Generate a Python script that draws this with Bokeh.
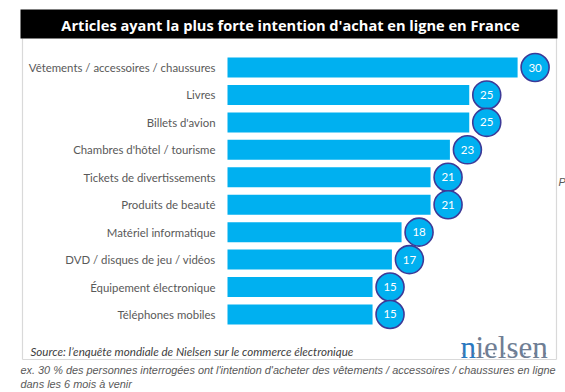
from bokeh.plotting import figure
from bokeh.models import Range1d, ColumnDataSource
from bokeh.core.properties import value
from bokeh.embed import file_html
from bokeh.resources import INLINE

title = "Articles ayant la plus forte intention d'achat en ligne en France"
categories = [
    "Vêtements / accessoires / chaussures",
    "Livres",
    "Billets d'avion",
    "Chambres d'hôtel / tourisme",
    "Tickets de divertissements",
    "Produits de beauté",
    "Matériel informatique",
    "DVD / disques de jeu / vidéos",
    "Équipement électronique",
    "Téléphones mobiles",
]
values = [30, 25, 25, 23, 21, 21, 18, 17, 15, 15]
source_text = "Source: l’enquête mondiale de Nielsen sur le commerce électronique"
note_lines = [
    "ex. 30 % des personnes interrogées ont l'intention d'acheter des vêtements / accessoires / chaussures en ligne",
    "dans les 6 mois à venir",
]
side_text = "P"

W, H = 565, 392
X0, XS = 227.0, 9.67      # pixel of value 0, pixels per unit
Y0, YS = 67.0, 27.44      # pixel of first row, pixels per row

def px(x):
    return (x - X0) / XS

def py(y):
    return (y - Y0) / YS

BLUE = "#00B0F0"
GRAY = "#595959"

p = figure(width=W, height=H, output_backend="svg", toolbar_location=None,
           x_range=Range1d(px(0), px(W)), y_range=Range1d(py(H), py(0)),
           x_axis_location=None, y_axis_location=None, min_border=0,
           outline_line_color=None, background_fill_color="white",
           border_fill_color="white")
p.xgrid.visible = False
p.ygrid.visible = False

idx = list(range(len(categories)))
circ_off = 17.5 / XS
src = ColumnDataSource(dict(
    y=idx, cat=categories, v=values,
    cx=[v + circ_off for v in values],
    vt=[str(v) for v in values],
))

# frame
p.segment(x0=[px(22), px(22), px(556)], y0=[py(38), py(359), py(38)],
          x1=[px(22), px(556), px(556)], y1=[py(359), py(359), py(359)],
          line_color="#D9D9D9", line_width=1.2)

# title bar
p.quad(left=[px(20)], right=[px(557)], top=[py(9)], bottom=[py(38)],
       fill_color="black", line_color=None)
p.text(x=[px(290)], y=[py(24)], text=[title], text_color="white",
       text_font=value("Open Sans"), text_font_style="bold",
       text_font_size="14.6px", text_align="center", text_baseline="middle")

# bars
p.hbar(y="y", left=0, right="v", height=20 / YS, source=src,
       fill_color=BLUE, line_color=None)
p.text(x=px(215), y="y", text="cat", source=src, text_color=GRAY,
       text_font=value("Lato"), text_font_size="11.4px",
       text_align="right", text_baseline="middle")

# value bubbles
p.scatter(x="cx", y="y", source=src, marker="circle", size=28,
          fill_color=BLUE, line_color="#3D3A97", line_width=1.6)
p.text(x="cx", y="y", text="vt", source=src, text_color="white",
       text_font=value("Lato"), text_font_size="11.5px",
       text_align="center", text_baseline="middle")

# source & logo
p.text(x=[px(30)], y=[py(351)], text=[source_text], text_color="#404040",
       text_font=value("Lato"), text_font_style="italic",
       text_font_size="11.6px", text_align="left", text_baseline="middle")
p.text(x=[px(460)], y=[py(347)], text=["n"], text_color="#2A78BF",
       text_font=value("Liberation Serif"), text_font_size="31px",
       text_align="left", text_baseline="alphabetic")
p.text(x=[px(475)], y=[py(347)], text=["ielsen"], text_color="#6F7E94",
       text_font=value("Liberation Serif"), text_font_size="31px",
       text_align="left", text_baseline="alphabetic")
p.scatter(x=[px(463 + i * 10.2) for i in range(9)], y=[py(353)] * 9,
          marker="circle", size=2.2, fill_color="#6F7E94", line_color=None)

# note under the frame
for i, line in enumerate(note_lines):
    p.text(x=[px(20)], y=[py(369 + i * 14)], text=[line], text_color=GRAY,
           text_font=value("Liberation Sans"), text_font_style="italic",
           text_font_size="10.9px", text_align="left", text_baseline="middle")

# stray letter at the right edge
p.text(x=[px(558)], y=[py(181)], text=[side_text], text_color=GRAY,
       text_font=value("Liberation Sans"), text_font_style="italic",
       text_font_size="10.9px", text_align="left", text_baseline="middle")

open("out.html", "w").write(file_html(p, INLINE))
